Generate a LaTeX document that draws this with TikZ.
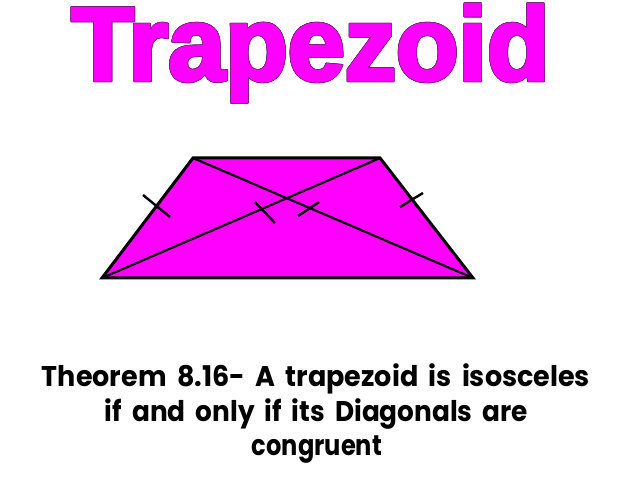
\documentclass[tikz,border=0pt]{standalone}
\usepackage{fontspec}
\usepackage{contour}
\usetikzlibrary{calc}
\newfontfamily\titlefont{Liberation Sans}[BoldFeatures={FakeBold=3}]
\newfontfamily\bodyfont{Poppins}
\newcommand\widespaces{\spaceskip=0.38em\relax}
\definecolor{tmag}{RGB}{255,0,255}
\definecolor{tedge}{RGB}{120,30,130}
\contourlength{0.6pt}
\contournumber{16}
\begin{document}
\begin{tikzpicture}[x=1pt,y=-1pt,
  shapeline/.style={line width=3pt, line join=miter},
  diag/.style={line width=2.2pt},
  tickmark/.style={line width=2.4pt},
  body/.style={inner sep=0pt, anchor=base, font=\bodyfont\bfseries\fontsize{28.5}{34}\selectfont}]
\useasboundingbox (0,0) rectangle (638,478);
% title
\node[inner sep=0pt, anchor=base] (title) at (310.5,80)
  {\resizebox{478pt}{\height}{\titlefont\bfseries\fontsize{104}{110}\selectfont\contour{tedge}{\textcolor{tmag}{Trapezoid}}}};
% trapezoid
\coordinate (TL) at (193,158);
\coordinate (TR) at (380,158);
\coordinate (BR) at (473,278);
\coordinate (BL) at (102,278);
\fill[tmag] (TL) -- (TR) -- (BR) -- (BL) -- cycle;
\draw[diag] (TL) -- (BR);
\draw[diag] (TR) -- (BL);
\draw[shapeline] (TL) -- (TR) -- (BR) -- (BL) -- cycle;
% tick marks
\coordinate (m1) at ($(TL)!0.40!(BL)$);
\coordinate (m2) at ($(TR)!0.35!(BR)$);
\coordinate (m3) at ($(TR)!0.414!(BL)$);
\coordinate (m4) at ($(TL)!0.41!(BR)$);
\draw[tickmark] ($(m1)+(-13.6,-11)$) -- ($(m1)+(13.4,11)$);
\draw[tickmark] ($(m2)+(-12.6,7)$) -- ($(m2)+(10.4,-7)$);
\draw[tickmark] ($(m3)+(-10,-5.7)$) -- ($(m3)+(10,15.3)$);
\draw[tickmark] ($(m4)+(-9.8,8.8)$) -- ($(m4)+(11.2,-5.2)$);
% theorem text
\node[body] (l1) at (316,387) {\resizebox{548pt}{\height}{\widespaces Theorem 8.16- A trapezoid is isosceles}};
\node[body] (l2) at (316.5,422) {\resizebox{423pt}{\height}{\widespaces if and only if its Diagonals are}};
\node[body] (l3) at (317,456) {\resizebox{130pt}{\height}{\widespaces congruent}};
\end{tikzpicture}
\end{document}
